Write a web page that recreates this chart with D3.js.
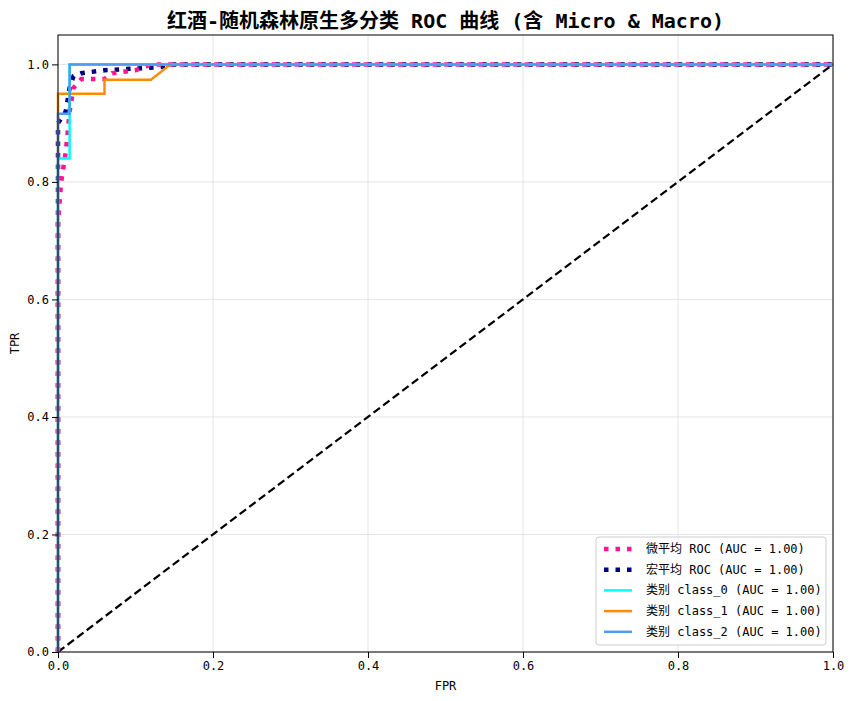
<!DOCTYPE html>
<html><head><meta charset="utf-8">
<script src="https://cdn.jsdelivr.net/npm/d3@7"></script>
<style>body{margin:0;background:#fff}text{font-family:"DejaVu Sans Mono","Noto Sans CJK SC",sans-serif}</style>
</head><body><div id="canvas"></div>
<script>
var microRoc = [[0,0],[0,0.73],[0.004,0.8],[0.01,0.85],[0.015,0.92],[0.02,0.96],[0.03,0.975],[0.06,0.975],[0.07,0.985],[0.1,0.99],[0.12,1.0],[1,1]];
var macroRoc = [[0,0],[0,0.9],[0.01,0.92],[0.015,0.96],[0.02,0.98],[0.03,0.985],[0.06,0.99],[0.13,0.995],[0.15,1],[1,1]];
var class0 = [[0,0],[0,0.84],[0.015,0.84],[0.015,1],[1,1]];
var class1 = [[0,0],[0,0.95],[0.06,0.95],[0.06,0.974],[0.12,0.974],[0.145,1],[1,1]];
var class2 = [[0,0],[0,0.916],[0.015,0.916],[0.015,1],[1,1]];
var legendLabels = ['微平均 ROC (AUC = 1.00)','宏平均 ROC (AUC = 1.00)','类别 class_0 (AUC = 1.00)','类别 class_1 (AUC = 1.00)','类别 class_2 (AUC = 1.00)'];
var xTicks = [0,0.2,0.4,0.6,0.8,1.0], yTicks = [0,0.2,0.4,0.6,0.8,1.0];

var W = 853, H = 701;
var m = {t:35,r:20,b:49,l:58};
var svg = d3.select('#canvas').append('svg').attr('width',W).attr('height',H);
var x = d3.scaleLinear().domain([0,1]).range([m.l, W-m.r]);
var y = d3.scaleLinear().domain([0,1.05]).range([H-m.b, m.t]);

svg.append('g').selectAll('line').data(xTicks).join('line')
  .attr('x1',d=>x(d)).attr('x2',d=>x(d)).attr('y1',y(0)).attr('y2',y(1.05))
  .style('stroke','#ddd').style('stroke-width',0.8);
svg.append('g').selectAll('line').data(yTicks).join('line')
  .attr('y1',d=>y(d)).attr('y2',d=>y(d)).attr('x1',x(0)).attr('x2',x(1))
  .style('stroke','#ddd').style('stroke-width',0.8);

var line = d3.line().x(d=>x(d[0])).y(d=>y(d[1]));
var series = [
  {d:class0,c:'cyan',w:2.5,dash:null},
  {d:class1,c:'darkorange',w:2.5,dash:null},
  {d:class2,c:'#4f9bf0',w:2.5,dash:null},
  {d:microRoc,c:'deeppink',w:4.5,dash:'4.5,7'},
  {d:macroRoc,c:'navy',w:4.5,dash:'4.5,7'}
];
svg.append('path').attr('d',line([[0,0],[1,1]])).style('fill','none').style('stroke','black').style('stroke-width',2.2).style('stroke-dasharray','8,4');
[4,3,0,1,2].forEach(function(i){
  var s = series[i];
  svg.append('path').attr('d',line(s.d)).style('fill','none').style('stroke',s.c)
    .style('stroke-width',s.w).style('stroke-dasharray',s.dash);
});

svg.append('rect').attr('x',x(0)).attr('y',y(1.05)).attr('width',x(1)-x(0)).attr('height',y(0)-y(1.05))
  .style('fill','none').style('stroke','black');

svg.append('g').attr('transform','translate(0,'+y(0)+')')
  .call(d3.axisBottom(x).tickValues(xTicks).tickFormat(d3.format('.1f')).tickSizeOuter(0))
  .call(g=>g.select('.domain').remove()).selectAll('text').style('font-size','12px');
svg.append('g').attr('transform','translate('+x(0)+',0)')
  .call(d3.axisLeft(y).tickValues(yTicks).tickFormat(d3.format('.1f')).tickSizeOuter(0))
  .call(g=>g.select('.domain').remove()).selectAll('text').style('font-size','12px');

svg.append('text').attr('x',(x(0)+x(1))/2).attr('y',690).attr('text-anchor','middle').style('font-size','12px').text('FPR');
svg.append('text').attr('transform','translate(19,'+y(0.525)+') rotate(-90)').attr('text-anchor','middle').style('font-size','12px').text('TPR');
svg.append('text').attr('x',(x(0)+x(1))/2).attr('y',28).attr('text-anchor','middle').style('font-size','20px').style('font-weight','bold').text('红酒-随机森林原生多分类 ROC 曲线 (含 Micro & Macro)');

var lg = svg.append('g').attr('transform','translate(596,537)');
lg.append('rect').attr('width',230).attr('height',108).attr('rx',3).style('fill','white').style('fill-opacity',0.85).style('stroke','#ccc');
var order = [3,4,0,1,2];
legendLabels.forEach(function(t,i){
  var s = series[order[i]], yy = 12 + i*20.7;
  lg.append('line').attr('x1',8).attr('x2',36).attr('y1',yy).attr('y2',yy).style('stroke',s.c).style('stroke-width',s.w).style('stroke-dasharray',s.dash);
  lg.append('text').attr('x',50).attr('y',yy+4).style('font-size','12px').text(t);
});
</script></body></html>
